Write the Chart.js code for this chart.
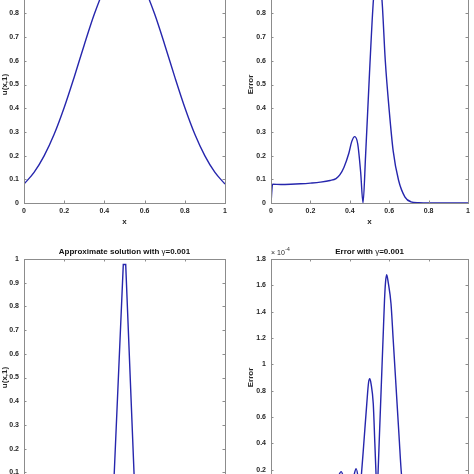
<!DOCTYPE html>
<html>
<head>
<meta charset="utf-8">
<script src="https://cdn.jsdelivr.net/npm/chart.js@4"></script>
<style>
  html, body { margin: 0; padding: 0; background: #fff; }
  #wrap { position: relative; width: 474px; height: 474px; overflow: hidden; }
  #wrap canvas { position: absolute; }
</style>
</head>
<body>
<div id="wrap">
  <canvas id="solTop" width="237" height="290" style="left:0;top:-60px;width:237px;height:290px"></canvas>
  <canvas id="errTop" width="228" height="290" style="left:246px;top:-60px;width:228px;height:290px"></canvas>
  <canvas id="solBot" width="237" height="293" style="left:0;top:230px;width:237px;height:293px"></canvas>
  <canvas id="errBot" width="228" height="293" style="left:246px;top:230px;width:228px;height:293px"></canvas>
</div>
<script>
// top left: u(x,1)
const solX = [0, 0.05, 0.1, 0.15, 0.2, 0.25, 0.3, 0.35, 0.4, 0.45, 0.5, 0.55, 0.6, 0.65, 0.7, 0.75, 0.8, 0.85, 0.9, 0.95, 1];
const solY = [0.08, 0.129, 0.199, 0.29, 0.403, 0.532, 0.668, 0.797, 0.904, 0.975, 1.0, 0.975, 0.904, 0.797, 0.668, 0.532, 0.403, 0.29, 0.199, 0.129, 0.08];

// top right: error
const errX = [0, 0.008, 0.05, 0.1, 0.15, 0.2, 0.25, 0.3, 0.33, 0.35, 0.37, 0.395, 0.41, 0.425, 0.44, 0.455, 0.467, 0.48, 0.5, 0.52, 0.54, 0.563, 0.58, 0.6, 0.62, 0.647, 0.68, 0.71, 0.75, 0.8, 0.9, 1];
const errY = [0, 0.079, 0.078, 0.079, 0.081, 0.084, 0.088, 0.095, 0.103, 0.12, 0.15, 0.21, 0.26, 0.28, 0.25, 0.13, 0, 0.2, 0.55, 0.86, 1.0, 0.86, 0.6, 0.39, 0.22, 0.097, 0.025, 0.005, 0.001, 0, 0, 0];

// bottom left: approximate solution, gamma = 0.001
const apxX = [0, 0.3, 0.444, 0.494, 0.506, 0.552, 0.7, 1];
const apxY = [0, 0, 0, 0.977, 0.977, 0, 0, 0];

// bottom right: error, gamma = 0.001 (units of 1e-4)
const gErrX = [0, 0.25, 0.3, 0.33, 0.345, 0.356, 0.367, 0.385, 0.405, 0.42, 0.432, 0.443, 0.45, 0.459, 0.47, 0.486, 0.495, 0.501, 0.508, 0.519, 0.527, 0.533, 0.537, 0.543, 0.55, 0.56, 0.57, 0.576, 0.581, 0.587, 0.595, 0.609, 0.62, 0.635, 0.65, 0.662, 0.675, 0.7, 0.75, 0.8, 1];
const gErrY = [0, 0.01, 0.03, 0.09, 0.16, 0.185, 0.15, 0.06, 0.05, 0.15, 0.207, 0.13, 0.03, 0.167, 0.38, 0.70, 0.86, 0.89, 0.85, 0.70, 0.4, 0.167, 0.03, 0.167, 0.45, 0.85, 1.25, 1.486, 1.62, 1.68, 1.62, 1.46, 1.19, 0.82, 0.45, 0.167, 0.05, 0.01, 0, 0, 0];

const xTicks = [0, 0.2, 0.4, 0.6, 0.8, 1];

const LINE = '#2626ad';
const BOX = '#8c8c8c';
const TXT = '#262626';
const FONT = "'Liberation Sans', Arial, sans-serif";

Chart.defaults.font.family = FONT;
Chart.defaults.font.weight = 'bold';
Chart.defaults.font.size = 7;
Chart.defaults.color = TXT;

// matlab style box with inward ticks + optional title
const frame = {
  id: 'frame',
  afterDraw(chart, args, opts) {
    const { ctx, chartArea: a, scales } = chart;
    ctx.save();
    ctx.strokeStyle = BOX;
    ctx.lineWidth = 1;
    ctx.strokeRect(Math.round(a.left) + 0.5, Math.round(a.top) + 0.5, Math.round(a.right - a.left), Math.round(a.bottom - a.top));
    ctx.beginPath();
    scales.x.ticks.forEach(t => {
      const px = Math.round(scales.x.getPixelForValue(t.value)) + 0.5;
      ctx.moveTo(px, a.bottom); ctx.lineTo(px, a.bottom - 2.5);
      ctx.moveTo(px, a.top); ctx.lineTo(px, a.top + 2.5);
    });
    scales.y.ticks.forEach(t => {
      const py = Math.round(scales.y.getPixelForValue(t.value)) + 0.5;
      ctx.moveTo(a.left, py); ctx.lineTo(a.left + 2.5, py);
      ctx.moveTo(a.right, py); ctx.lineTo(a.right - 2.5, py);
    });
    ctx.stroke();

    if (opts.title) {
      // title pieces: [text, bold]
      const parts = opts.title;
      const fontOf = b => (b ? 'bold ' : '') + '8px ' + FONT;
      let w = 0;
      parts.forEach(p => { ctx.font = fontOf(p[1]); w += ctx.measureText(p[0]).width; });
      let x = (a.left + a.right) / 2 - w / 2;
      const y = a.top - 7;
      ctx.fillStyle = '#111';
      ctx.textBaseline = 'middle';
      ctx.textAlign = 'left';
      parts.forEach(p => {
        ctx.font = fontOf(p[1]);
        ctx.fillText(p[0], x, y);
        x += ctx.measureText(p[0]).width;
      });
    }
    if (opts.exponent) {
      ctx.fillStyle = TXT;
      ctx.textAlign = 'left';
      ctx.textBaseline = 'middle';
      ctx.font = '7px ' + FONT;
      const x0 = a.left;
      ctx.fillText('\u00d7 10', x0, a.top - 6);
      const w = ctx.measureText('\u00d7 10').width;
      ctx.font = '5px ' + FONT;
      ctx.fillText(opts.exponent, x0 + w + 0.5, a.top - 9);
    }
    ctx.restore();
  }
};

function trimNum(v) {
  return String(+v.toFixed(1));
}

function makePanel(id, xs, ys, cfg) {
  const pts = xs.map((x, i) => ({ x: x, y: ys[i] }));
  return new Chart(document.getElementById(id), {
    type: 'line',
    data: {
      datasets: [{
        data: pts,
        borderColor: LINE,
        borderWidth: 1.4,
        pointRadius: 0,
        tension: cfg.straight ? 0 : 0.4,
        cubicInterpolationMode: cfg.straight ? 'default' : 'monotone',
        fill: false
      }]
    },
    options: {
      responsive: false,
      animation: false,
      events: [],
      layout: { padding: { left: 0, top: cfg.padTop, right: cfg.padRight, bottom: 0 } },
      plugins: {
        legend: { display: false },
        tooltip: { enabled: false },
        frame: { title: cfg.title, exponent: cfg.exponent }
      },
      scales: {
        x: {
          type: 'linear',
          min: 0, max: 1,
          afterBuildTicks: s => { s.ticks = xTicks.map(v => ({ value: v })); },
          afterFit: s => { s.height = 27; },
          grid: { display: false, drawTicks: false },
          border: { display: false },
          ticks: { padding: 4, maxRotation: 0, callback: v => trimNum(v) },
          title: { display: true, text: 'x', font: { size: 8, weight: 'bold' }, padding: { top: 0, bottom: 3.5 } }
        },
        y: {
          type: 'linear',
          min: 0, max: cfg.yMax,
          afterBuildTicks: s => { s.ticks = cfg.yTicks.map(v => ({ value: v })); },
          afterFit: s => { s.width = cfg.yWidth; },
          grid: { display: false, drawTicks: false },
          border: { display: false },
          ticks: { padding: 5, callback: v => trimNum(v) },
          title: { display: true, text: cfg.yLabel, font: { size: 8, weight: 'bold' }, padding: { top: 0, bottom: 0 } }
        }
      }
    },
    plugins: [frame]
  });
}

const tenths = [0, 0.1, 0.2, 0.3, 0.4, 0.5, 0.6, 0.7, 0.8, 0.9, 1];
const fifths = [0, 0.2, 0.4, 0.6, 0.8, 1, 1.2, 1.4, 1.6, 1.8];

makePanel('solTop', solX, solY, {
  padTop: 26, padRight: 12, yWidth: 24, yMax: 1, yTicks: tenths, yLabel: 'u(x,1)'
});
makePanel('errTop', errX, errY, {
  padTop: 26, padRight: 3, yWidth: 25, yMax: 1, yTicks: tenths, yLabel: 'Error'
});
makePanel('solBot', apxX, apxY, {
  padTop: 29, padRight: 12, yWidth: 24, yMax: 1, yTicks: tenths, yLabel: 'u(x,1)', straight: true,
  title: [['Approximate solution with ', true], ['\u03b3', false], ['=0.001', true]]
});
makePanel('errBot', gErrX, gErrY, {
  padTop: 29, padRight: 2, yWidth: 25, yMax: 1.8, yTicks: fifths, yLabel: 'Error',
  title: [['Error with ', true], ['\u03b3', false], ['=0.001', true]],
  exponent: '-4'
});
</script>
</body>
</html>
